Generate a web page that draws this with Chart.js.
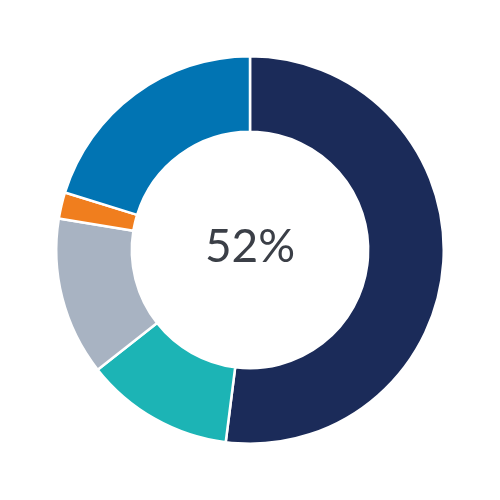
<!DOCTYPE html>
<html lang="en-US">
  <head>
    <meta charset="utf-8" />
    <title>Doughnut</title>
    <style>
      body{
        margin: 0;
        background: #fff;
      }
      .wrap{
        position: relative;
        width: 500px;
        height: 500px;
      }
      .center{
        position: absolute;
        left: 0;
        top: -6px;
        width: 500px;
        height: 500px;
        display: flex;
        align-items: center;
        justify-content: center;
        font-family: Lato, sans-serif;
        font-size: 46px;
        color: #3b3f47;
        pointer-events: none;
      }
    </style>
  </head>
  <body>
    <div class="wrap">
      <canvas id="chart" width="500" height="500"></canvas>
      <div class="center">52%</div>
    </div>
    <script src="https://cdn.jsdelivr.net/npm/chart.js@4.4.0/dist/chart.umd.min.js"></script>
    <script>
      // segments, clockwise from 12 o'clock
      const labels = ["A", "B", "C", "D", "E"];
      const values = [52, 12.4, 13.2, 2.2, 20.2];
      const colors = ["#1b2b59", "#1cb4b5", "#a8b3c2", "#f07e1e", "#0174b3"];

      new Chart(document.getElementById("chart"), {
        type: "doughnut",
        data: {
          labels: labels,
          datasets: [{
            data: values,
            backgroundColor: colors,
            borderColor: "#fff",
            borderWidth: 2.5
          }]
        },
        options: {
          responsive: false,
          animation: false,
          cutout: "61%",
          layout: { padding: 55 },
          plugins: {
            legend: { display: false },
            tooltip: { enabled: false }
          }
        }
      });
    </script>
  </body>
</html>
